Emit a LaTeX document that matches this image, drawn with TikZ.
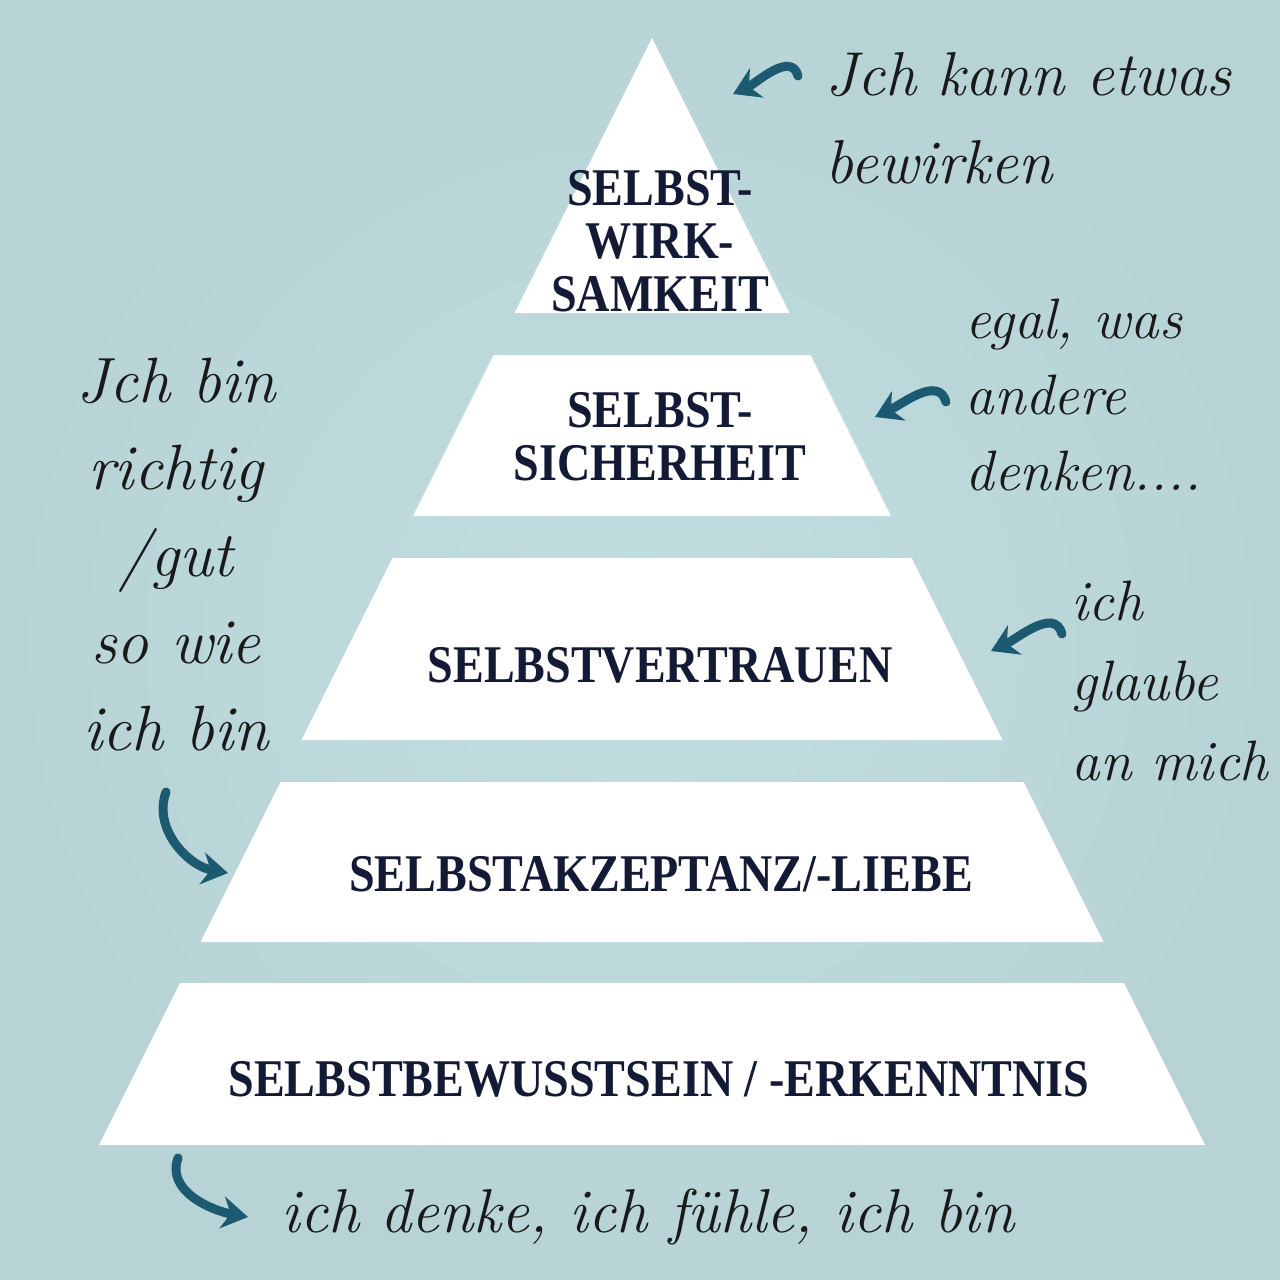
\documentclass[tikz,border=0pt]{standalone}
\usepackage{fontspec}
\usetikzlibrary{arrows.meta}
\newfontfamily\layerfont[FakeStretch=0.87]{Liberation Serif}
\definecolor{bgteal}{HTML}{C1DEE1}
\definecolor{bgedge}{HTML}{B7D3D6}
\definecolor{navy}{HTML}{131A35}
\definecolor{arrowteal}{HTML}{1B5A70}
\tikzset{
  layer/.style={fill=white},
  layertext/.style={text=navy, align=center, font=\layerfont\bfseries\fontsize{53}{53}\selectfont},
  hand/.style={text=black!90, font=\itshape\fontsize{62}{88}\selectfont},
  curl/.style={draw=arrowteal, line width=9pt, line cap=round, -{Stealth[length=26pt,width=32pt]}}
}
\begin{document}
\begin{tikzpicture}[x=1pt,y=-1pt]
\useasboundingbox (0,0) rectangle (1280,1280);
\shade[inner color=bgteal, outer color=bgedge] (0,0) rectangle (1280,1280);
% pyramid
\fill[layer] (652,38) -- (789.5,313) -- (514.5,313) -- cycle;
\fill[layer] (493.5,355) -- (810.5,355) -- (891,516) -- (413,516) -- cycle;
\fill[layer] (392.5,558) -- (911.5,558) -- (1002.5,740) -- (301.5,740) -- cycle;
\fill[layer] (280.5,782) -- (1023.5,782) -- (1103.5,942) -- (200.5,942) -- cycle;
\fill[layer] (180,983) -- (1124,983) -- (1205,1145) -- (99,1145) -- cycle;
% layer texts
\node[layertext, anchor=base] (wirk) at (660,311) {SELBST-\\WIRK-\\SAMKEIT};
\node[layertext, anchor=base] (sicher) at (660,480) {SELBST-\\SICHERHEIT};
\node[layertext, anchor=base] (vertrauen) at (660,682) {SELBSTVERTRAUEN};
\node[layertext, anchor=base] (akzeptanz) at (661,891) {SELBSTAKZEPTANZ/-LIEBE};
\node[layertext, anchor=base] (bewusst) at (659,1096) {SELBSTBEWUSSTSEIN / -ERKENNTNIS};
% handwritten notes
\node[hand, align=left, anchor=base west] (bewirken) at (822,183) {Jch kann etwas\\bewirken};
\node[hand, align=left, anchor=base west, font=\itshape\fontsize{57}{76}\selectfont] (egal) at (962,490) {egal, was\\andere\\denken....};
\node[hand, align=left, anchor=base west, font=\itshape\fontsize{57}{80}\selectfont] (glaube) at (1068,780) {ich\\glaube\\an mich};
\node[hand, align=center, anchor=base, font=\itshape\fontsize{64}{87}\selectfont] (richtig) at (176,750) {Jch bin\\richtig\\/gut\\so wie\\ich bin};
\node[hand, anchor=base west] (denke) at (278,1232) {ich denke, ich fühle, ich bin};
% arrows
\coordinate (c1s) at (798,76);
\coordinate (c1e) at (733,94);
\coordinate (c2s) at (946,402);
\coordinate (c2e) at (875,417);
\coordinate (c3s) at (1062,634);
\coordinate (c3e) at (991,651);
\coordinate (c4s) at (166,792);
\coordinate (c4e) at (228,873);
\coordinate (c5s) at (178,1158);
\coordinate (c5e) at (248,1217);
\draw[curl] (c1s) to[out=105,in=25] (c1e);
\draw[curl] (c2s) to[out=105,in=25] (c2e);
\draw[curl] (c3s) to[out=105,in=25] (c3e);
\draw[curl] (c4s) to[out=250,in=170] (c4e);
\draw[curl] (c5s) to[out=250,in=170] (c5e);
\end{tikzpicture}
\end{document}
